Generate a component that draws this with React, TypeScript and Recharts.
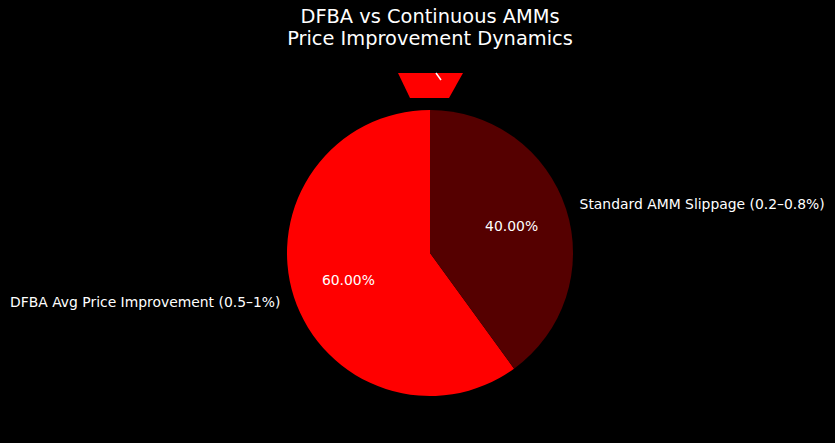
import { PieChart, Pie, Cell, Customized } from 'recharts';

const categories = ['DFBA Avg Price Improvement (0.5–1%)', 'Standard AMM Slippage (0.2–0.8%)'];
const shares = [60, 40];
const colors = ['#ff0000', '#550000'];

const data = categories.map((name, i) => ({ name, value: shares[i] }));

const CX = 430;
const CY = 253;
const R = 143;
const RAD = Math.PI / 180;
const font = 'DejaVu Sans, sans-serif';

const renderLabel = (props: any) => {
  const { cx, cy, midAngle, outerRadius, percent, name } = props;
  const cos = Math.cos(-midAngle * RAD);
  const sin = Math.sin(-midAngle * RAD);
  const ox = cx + outerRadius * 1.1 * cos;
  const oy = cy + outerRadius * 1.1 * sin;
  const ix = cx + outerRadius * 0.6 * cos;
  const iy = cy + outerRadius * 0.6 * sin;
  return (
    <g>
      <text x={ox} y={oy} fill="#ffffff" fontSize={13.9} fontFamily={font}
        textAnchor={cos >= 0 ? 'start' : 'end'} dominantBaseline="central">
        {name}
      </text>
      <text x={ix} y={iy} fill="#ffffff" fontSize={13.9} fontFamily={font}
        textAnchor="middle" dominantBaseline="central">
        {(percent * 100).toFixed(2)}%
      </text>
    </g>
  );
};

// clipped red shape sitting above the pie
const TopShape = () => (
  <g>
    <polygon
      points={`${CX - 32},${CY - 180} ${CX + 33},${CY - 180} ${CX + 19},${CY - 155} ${CX - 20},${CY - 155}`}
      fill="#ff0000"
    />
    <line x1={CX + 6} y1={CY - 180} x2={CX + 11} y2={CY - 173} stroke="#ffffff" strokeWidth={1.5} />
  </g>
);

export default function App() {
  return (
    <div style={{ position: 'absolute', left: 0, top: 0, width: 835, height: 443, background: '#000000' }}>
      <div style={{ position: 'absolute', left: 0, top: 6, width: 860, textAlign: 'center', color: '#ffffff', fontFamily: font, fontSize: 19.4, lineHeight: '22px' }}>
        DFBA vs Continuous AMMs<br />Price Improvement Dynamics
      </div>
      <PieChart width={835} height={443} margin={{ top: 0, right: 0, bottom: 0, left: 0 }}>
        <Customized component={TopShape} />
        <Pie
          data={data}
          dataKey="value"
          nameKey="name"
          cx={CX}
          cy={CY}
          outerRadius={R}
          startAngle={90}
          endAngle={450}
          stroke="none"
          label={renderLabel}
          labelLine={false}
          isAnimationActive={false}
        >
          {data.map((d, i) => (
            <Cell key={d.name} fill={colors[i]} />
          ))}
        </Pie>
      </PieChart>
    </div>
  );
}
